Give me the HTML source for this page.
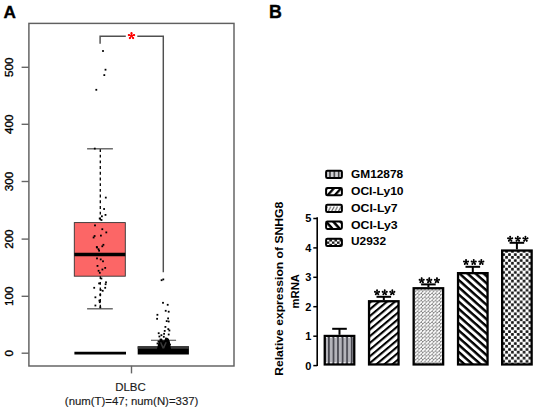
<!DOCTYPE html>
<html><head><meta charset="utf-8"><style>
html,body{margin:0;padding:0;background:#fff;overflow:hidden}
svg{display:block}
</style></head><body>
<svg width="536" height="410" viewBox="0 0 536 410" font-family='"Liberation Sans", sans-serif'>
<defs>
<pattern id="pv" patternUnits="userSpaceOnUse" width="4.55" height="10" x="328.1">
  <rect width="4.55" height="10" fill="#b4b4ba"/>
  <rect x="0" width="1.6" height="10" fill="#3e3e46"/>
</pattern>
<pattern id="pvw" patternUnits="userSpaceOnUse" width="4.55" height="10" x="328.1">
  <rect x="2.0" width="1.6" height="10" fill="#f4f4f6"/>
</pattern>
<pattern id="pd1" patternUnits="userSpaceOnUse" width="20" height="5.15" patternTransform="translate(381,332.2) rotate(-40)">
  <rect width="20" height="5.15" fill="#fff"/>
  <rect width="20" height="2.1" fill="#000"/>
</pattern>
<pattern id="pd2" patternUnits="userSpaceOnUse" width="20" height="5.37" patternTransform="translate(472,326.2) rotate(41.7)">
  <rect width="20" height="5.37" fill="#fff"/>
  <rect width="20" height="2.45" fill="#000"/>
</pattern>
<pattern id="pfine" patternUnits="userSpaceOnUse" width="3.6" height="3.6" x="418.4" y="340.9">
  <rect width="3.6" height="3.6" fill="#808080"/>
  <path d="M0.55,3.05 L3.05,0.55" stroke="#fff" stroke-width="1.8" stroke-linecap="round"/>
</pattern>
<pattern id="pchk" patternUnits="userSpaceOnUse" width="5.84" height="5.93" x="505.1" y="250">
  <rect width="5.84" height="5.93" fill="#fff"/>
  <rect x="0.12" y="0.12" width="2.7" height="2.72" rx="0.5" fill="#111"/>
  <rect x="3.04" y="3.09" width="2.7" height="2.72" rx="0.5" fill="#111"/>
</pattern>
<pattern id="lv" patternUnits="userSpaceOnUse" width="4.3" height="10" x="329.25">
  <rect width="4.3" height="10" fill="#cfcfd3"/>
  <rect width="1.5" height="10" fill="#383838"/>
</pattern>
<pattern id="ld1" patternUnits="userSpaceOnUse" width="10" height="5.3" patternTransform="translate(330.8,190) rotate(-48)">
  <rect width="10" height="5.3" fill="#fff"/><rect width="10" height="2.3" fill="#000"/>
</pattern>
<pattern id="ld2" patternUnits="userSpaceOnUse" width="10" height="5.4" patternTransform="translate(329.5,223.6) rotate(48)">
  <rect width="10" height="5.4" fill="#fff"/><rect width="10" height="2.5" fill="#000"/>
</pattern>
<pattern id="lfine" patternUnits="userSpaceOnUse" width="3.4" height="6.2" x="327.9" y="205.7">
  <rect width="3.4" height="6.2" fill="#fff"/><path d="M0.4,5.4 L3.0,0.8" stroke="#555" stroke-width="1.1"/>
</pattern>
<pattern id="lchk" patternUnits="userSpaceOnUse" width="5.1" height="4.6" x="326.8" y="239.2">
  <rect width="5.1" height="4.6" fill="#fff"/><rect x="2.55" y="0" width="2.55" height="2.3" fill="#222"/><rect x="0" y="2.3" width="2.55" height="2.3" fill="#222"/>
</pattern>
</defs>
<rect width="536" height="410" fill="#fff"/>
<text x="3.6" y="17.7" font-size="17.2" font-weight="bold" fill="#000" stroke="#000" stroke-width="0.35">A</text>
<rect x="28.9" y="23.4" width="205.1" height="342.6" fill="none" stroke="#606060" stroke-width="1.45"/>
<line x1="21.6" y1="353.2" x2="28.9" y2="353.2" stroke="#666" stroke-width="1.4"/>
<text transform="translate(13.2,353.2) rotate(-90)" text-anchor="middle" font-size="11.6" fill="#000" stroke="#000" stroke-width="0.35">0</text>
<line x1="21.6" y1="296.3" x2="28.9" y2="296.3" stroke="#666" stroke-width="1.4"/>
<text transform="translate(13.2,296.3) rotate(-90)" text-anchor="middle" font-size="11.6" fill="#000" stroke="#000" stroke-width="0.35">100</text>
<line x1="21.6" y1="239.1" x2="28.9" y2="239.1" stroke="#666" stroke-width="1.4"/>
<text transform="translate(13.2,239.1) rotate(-90)" text-anchor="middle" font-size="11.6" fill="#000" stroke="#000" stroke-width="0.35">200</text>
<line x1="21.6" y1="181.5" x2="28.9" y2="181.5" stroke="#666" stroke-width="1.4"/>
<text transform="translate(13.2,181.5) rotate(-90)" text-anchor="middle" font-size="11.6" fill="#000" stroke="#000" stroke-width="0.35">300</text>
<line x1="21.6" y1="124.3" x2="28.9" y2="124.3" stroke="#666" stroke-width="1.4"/>
<text transform="translate(13.2,124.3) rotate(-90)" text-anchor="middle" font-size="11.6" fill="#000" stroke="#000" stroke-width="0.35">400</text>
<line x1="21.6" y1="67.3" x2="28.9" y2="67.3" stroke="#666" stroke-width="1.4"/>
<text transform="translate(13.2,67.3) rotate(-90)" text-anchor="middle" font-size="11.6" fill="#000" stroke="#000" stroke-width="0.35">500</text>
<path d="M100.1,43.8 V36.2 H125.8 M137.3,36.2 H163.3 V272.3" fill="none" stroke="#505050" stroke-width="1.45"/>
<path d="M131.50,35.90 L131.50,33.15 M131.50,35.90 L134.12,35.05 M131.50,35.90 L133.12,38.12 M131.50,35.90 L129.88,38.12 M131.50,35.90 L128.88,35.05" stroke="#f00" stroke-width="1.45" stroke-linecap="round" fill="none"/><circle cx="131.50" cy="33.15" r="1.1" fill="#f00"/><circle cx="134.12" cy="35.05" r="1.1" fill="#f00"/><circle cx="133.12" cy="38.12" r="1.1" fill="#f00"/><circle cx="129.88" cy="38.12" r="1.1" fill="#f00"/><circle cx="128.88" cy="35.05" r="1.1" fill="#f00"/>
<rect x="74.3" y="222.6" width="51.0" height="53.6" fill="#fc6666" stroke="#333" stroke-width="0.9"/>
<line x1="74.3" y1="254.5" x2="125.3" y2="254.5" stroke="#000" stroke-width="3.4"/>
<line x1="100.3" y1="149" x2="100.3" y2="222.6" stroke="#000" stroke-width="1.3" stroke-dasharray="2.9 2.8"/>
<line x1="100.3" y1="276.2" x2="100.3" y2="308.6" stroke="#000" stroke-width="1.3" stroke-dasharray="2.9 2.8"/>
<line x1="87.1" y1="148.8" x2="112.9" y2="148.8" stroke="#555" stroke-width="1.3"/>
<line x1="87.1" y1="308.8" x2="112.8" y2="308.8" stroke="#555" stroke-width="1.3"/>
<line x1="74.4" y1="353.1" x2="126" y2="353.1" stroke="#000" stroke-width="2.6"/>
<rect x="137.7" y="346.3" width="51.2" height="8.2" fill="#000"/>
<rect x="137.7" y="346.3" width="51.2" height="2.5" fill="#3a3a3a"/>
<line x1="151" y1="340.3" x2="176.1" y2="340.3" stroke="#666" stroke-width="1.2"/>
<line x1="163.3" y1="340.3" x2="163.3" y2="346.3" stroke="#000" stroke-width="1.2" stroke-dasharray="2 2"/>
<rect x="102.10" y="50.10" width="1.8" height="1.8" fill="#000"/>
<rect x="104.60" y="68.80" width="1.8" height="1.8" fill="#000"/>
<rect x="103.40" y="74.20" width="1.8" height="1.8" fill="#000"/>
<rect x="95.40" y="88.90" width="1.8" height="1.8" fill="#000"/>
<rect x="93.90" y="147.70" width="1.8" height="1.8" fill="#000"/>
<rect x="104.90" y="196.70" width="1.8" height="1.8" fill="#000"/>
<rect x="103.20" y="208.10" width="1.8" height="1.8" fill="#000"/>
<rect x="104.60" y="214.00" width="1.8" height="1.8" fill="#000"/>
<rect x="101.00" y="215.40" width="1.8" height="1.8" fill="#000"/>
<rect x="98.80" y="217.60" width="1.8" height="1.8" fill="#000"/>
<rect x="100.60" y="219.10" width="1.8" height="1.8" fill="#000"/>
<rect x="94.10" y="224.50" width="1.8" height="1.8" fill="#000"/>
<rect x="101.40" y="228.30" width="1.8" height="1.8" fill="#000"/>
<rect x="105.40" y="231.50" width="1.8" height="1.8" fill="#000"/>
<rect x="93.70" y="235.10" width="1.8" height="1.8" fill="#000"/>
<rect x="92.70" y="236.60" width="1.8" height="1.8" fill="#000"/>
<rect x="100.00" y="234.70" width="1.8" height="1.8" fill="#000"/>
<rect x="102.50" y="243.90" width="1.8" height="1.8" fill="#000"/>
<rect x="101.40" y="245.40" width="1.8" height="1.8" fill="#000"/>
<rect x="95.90" y="246.10" width="1.8" height="1.8" fill="#000"/>
<rect x="97.60" y="248.30" width="1.8" height="1.8" fill="#000"/>
<rect x="96.10" y="246.60" width="1.8" height="1.8" fill="#000"/>
<rect x="98.20" y="249.80" width="1.8" height="1.8" fill="#000"/>
<rect x="96.10" y="257.50" width="1.8" height="1.8" fill="#000"/>
<rect x="99.80" y="258.50" width="1.8" height="1.8" fill="#000"/>
<rect x="102.10" y="260.40" width="1.8" height="1.8" fill="#000"/>
<rect x="96.60" y="265.00" width="1.8" height="1.8" fill="#000"/>
<rect x="104.30" y="267.00" width="1.8" height="1.8" fill="#000"/>
<rect x="101.50" y="268.60" width="1.8" height="1.8" fill="#000"/>
<rect x="97.70" y="269.90" width="1.8" height="1.8" fill="#000"/>
<rect x="98.90" y="271.90" width="1.8" height="1.8" fill="#000"/>
<rect x="100.50" y="277.60" width="1.8" height="1.8" fill="#000"/>
<rect x="105.10" y="281.40" width="1.8" height="1.8" fill="#000"/>
<rect x="98.20" y="282.50" width="1.8" height="1.8" fill="#000"/>
<rect x="104.70" y="283.30" width="1.8" height="1.8" fill="#000"/>
<rect x="93.30" y="286.90" width="1.8" height="1.8" fill="#000"/>
<rect x="104.30" y="286.90" width="1.8" height="1.8" fill="#000"/>
<rect x="99.80" y="289.10" width="1.8" height="1.8" fill="#000"/>
<rect x="101.80" y="289.90" width="1.8" height="1.8" fill="#000"/>
<rect x="99.40" y="293.90" width="1.8" height="1.8" fill="#000"/>
<rect x="94.50" y="296.40" width="1.8" height="1.8" fill="#000"/>
<rect x="98.50" y="299.70" width="1.8" height="1.8" fill="#000"/>
<rect x="98.90" y="301.30" width="1.8" height="1.8" fill="#000"/>
<rect x="94.50" y="304.60" width="1.8" height="1.8" fill="#000"/>
<rect x="99.40" y="306.50" width="1.8" height="1.8" fill="#000"/>
<rect x="160.70" y="279.30" width="1.8" height="1.8" fill="#000"/>
<rect x="162.40" y="278.50" width="1.8" height="1.8" fill="#000"/>
<rect x="162.10" y="301.90" width="1.8" height="1.8" fill="#000"/>
<rect x="166.80" y="303.90" width="1.8" height="1.8" fill="#000"/>
<rect x="164.80" y="309.90" width="1.8" height="1.8" fill="#000"/>
<rect x="167.80" y="310.80" width="1.8" height="1.8" fill="#000"/>
<rect x="156.50" y="313.90" width="1.8" height="1.8" fill="#000"/>
<rect x="156.20" y="317.90" width="1.8" height="1.8" fill="#000"/>
<rect x="167.20" y="317.50" width="1.8" height="1.8" fill="#000"/>
<rect x="165.80" y="320.20" width="1.8" height="1.8" fill="#000"/>
<rect x="167.80" y="320.60" width="1.8" height="1.8" fill="#000"/>
<rect x="164.50" y="326.00" width="1.8" height="1.8" fill="#000"/>
<rect x="167.40" y="328.20" width="1.8" height="1.8" fill="#000"/>
<rect x="168.50" y="329.60" width="1.8" height="1.8" fill="#000"/>
<rect x="163.80" y="330.00" width="1.8" height="1.8" fill="#000"/>
<rect x="157.80" y="332.30" width="1.8" height="1.8" fill="#000"/>
<rect x="163.20" y="332.90" width="1.8" height="1.8" fill="#000"/>
<rect x="167.80" y="333.60" width="1.8" height="1.8" fill="#000"/>
<rect x="160.50" y="334.30" width="1.8" height="1.8" fill="#000"/>
<rect x="158.50" y="335.60" width="1.8" height="1.8" fill="#000"/>
<rect x="162.90" y="335.90" width="1.8" height="1.8" fill="#000"/>
<rect x="165.10" y="337.60" width="1.8" height="1.8" fill="#000"/>
<rect x="159.60" y="338.60" width="1.8" height="1.8" fill="#000"/>
<rect x="167.10" y="338.70" width="1.8" height="1.8" fill="#000"/>
<rect x="157.60" y="340.60" width="1.8" height="1.8" fill="#000"/>
<rect x="161.10" y="340.90" width="1.8" height="1.8" fill="#000"/>
<rect x="164.10" y="341.10" width="1.8" height="1.8" fill="#000"/>
<rect x="168.10" y="341.60" width="1.8" height="1.8" fill="#000"/>
<rect x="156.60" y="342.60" width="1.8" height="1.8" fill="#000"/>
<rect x="160.10" y="343.10" width="1.8" height="1.8" fill="#000"/>
<rect x="166.10" y="343.10" width="1.8" height="1.8" fill="#000"/>
<rect x="169.10" y="343.60" width="1.8" height="1.8" fill="#000"/>
<rect x="158.10" y="344.10" width="1.8" height="1.8" fill="#000"/>
<rect x="163.10" y="344.10" width="1.8" height="1.8" fill="#000"/>
<path d="M157,349 L158.5,342 L160.5,339 L162,338.5 L163.3,342 L165,339 L167.5,337.8 L169.5,340.5 L171,349 Z" fill="#000"/>
<path d="M160,342.5 L161.2,342 L163.3,346.5 L165.5,342 L166.8,342.5 L164.2,348.5 L162.4,348.5 Z" fill="#383838"/>
<line x1="131.5" y1="365.8" x2="131.5" y2="373.4" stroke="#666" stroke-width="1.4"/>
<text x="130.5" y="390.7" text-anchor="middle" font-size="11.6" fill="#1a1a1a" stroke="#1a1a1a" stroke-width="0.15" textLength="30.5" lengthAdjust="spacingAndGlyphs">DLBC</text>
<text x="131.6" y="404.8" text-anchor="middle" font-size="11.6" fill="#1a1a1a" stroke="#1a1a1a" stroke-width="0.15" textLength="133.5" lengthAdjust="spacingAndGlyphs">(num(T)=47; num(N)=337)</text>
<text x="269.0" y="17.9" font-size="17.8" font-weight="bold" fill="#000" stroke="#000" stroke-width="0.35">B</text>
<line x1="317.2" y1="217.2" x2="317.2" y2="366" stroke="#000" stroke-width="1.6"/>
<line x1="313.3" y1="365.6" x2="317.2" y2="365.6" stroke="#000" stroke-width="1.5"/>
<text x="311.3" y="369.5" text-anchor="end" font-size="11" font-weight="bold" fill="#000">0</text>
<line x1="313.3" y1="336.2" x2="317.2" y2="336.2" stroke="#000" stroke-width="1.5"/>
<text x="311.3" y="340.1" text-anchor="end" font-size="11" font-weight="bold" fill="#000">1</text>
<line x1="313.3" y1="306.7" x2="317.2" y2="306.7" stroke="#000" stroke-width="1.5"/>
<text x="311.3" y="310.6" text-anchor="end" font-size="11" font-weight="bold" fill="#000">2</text>
<line x1="313.3" y1="277.3" x2="317.2" y2="277.3" stroke="#000" stroke-width="1.5"/>
<text x="311.3" y="281.2" text-anchor="end" font-size="11" font-weight="bold" fill="#000">3</text>
<line x1="313.3" y1="247.9" x2="317.2" y2="247.9" stroke="#000" stroke-width="1.5"/>
<text x="311.3" y="251.8" text-anchor="end" font-size="11" font-weight="bold" fill="#000">4</text>
<line x1="313.3" y1="218.5" x2="317.2" y2="218.5" stroke="#000" stroke-width="1.5"/>
<text x="311.3" y="222.4" text-anchor="end" font-size="11" font-weight="bold" fill="#000">5</text>
<text transform="translate(282.7,288.8) rotate(-90)" text-anchor="middle" font-size="11.4" font-weight="bold" fill="#000" textLength="174" lengthAdjust="spacingAndGlyphs">Relative expression of SNHG8</text>
<text transform="translate(298.6,291.3) rotate(-90)" text-anchor="middle" font-size="11.4" font-weight="bold" fill="#000" textLength="34.5" lengthAdjust="spacingAndGlyphs">mRNA</text>
<rect x="326.1" y="170.8" width="15.8" height="7.3" rx="1.3" fill="url(#lv)" stroke="#000" stroke-width="2"/>
<text x="351" y="178.1" font-size="10.9" font-weight="bold" fill="#000" textLength="52.2" lengthAdjust="spacingAndGlyphs">GM12878</text>
<rect x="326.1" y="187.9" width="15.8" height="7.3" rx="1.3" fill="url(#ld1)" stroke="#000" stroke-width="2"/>
<text x="351" y="195.0" font-size="10.9" font-weight="bold" fill="#000" textLength="52.6" lengthAdjust="spacingAndGlyphs">OCI-Ly10</text>
<rect x="326.1" y="204.8" width="15.8" height="7.3" rx="1.3" fill="url(#lfine)" stroke="#000" stroke-width="2"/>
<text x="351" y="212.1" font-size="10.9" font-weight="bold" fill="#000" textLength="46.7" lengthAdjust="spacingAndGlyphs">OCI-Ly7</text>
<rect x="326.1" y="221.6" width="15.8" height="7.3" rx="1.3" fill="url(#ld2)" stroke="#000" stroke-width="2"/>
<text x="351" y="228.9" font-size="10.9" font-weight="bold" fill="#000" textLength="46.7" lengthAdjust="spacingAndGlyphs">OCI-Ly3</text>
<rect x="326.1" y="238.7" width="15.8" height="7.3" rx="1.3" fill="url(#lchk)" stroke="#000" stroke-width="2"/>
<text x="351" y="245.4" font-size="10.9" font-weight="bold" fill="#000" textLength="35.0" lengthAdjust="spacingAndGlyphs">U2932</text>
<line x1="339.5" y1="328.8" x2="339.5" y2="334.8" stroke="#000" stroke-width="2"/>
<line x1="332.2" y1="328.8" x2="346.8" y2="328.8" stroke="#000" stroke-width="2"/>
<rect x="324.75" y="335.95" width="29.50" height="28.50" fill="url(#pv)" stroke="#000" stroke-width="2.3"/>
<line x1="383.8" y1="296.8" x2="383.8" y2="300.1" stroke="#000" stroke-width="2"/>
<line x1="376.5" y1="296.8" x2="391.1" y2="296.8" stroke="#000" stroke-width="2"/>
<rect x="369.05" y="301.25" width="29.50" height="63.20" fill="url(#pd1)" stroke="#000" stroke-width="2.3"/>
<line x1="428.4" y1="284.4" x2="428.4" y2="287.1" stroke="#000" stroke-width="2"/>
<line x1="421.1" y1="284.4" x2="435.7" y2="284.4" stroke="#000" stroke-width="2"/>
<rect x="413.65" y="288.25" width="29.50" height="76.20" fill="url(#pfine)" stroke="#000" stroke-width="2.3"/>
<line x1="472.8" y1="266.8" x2="472.8" y2="272.0" stroke="#000" stroke-width="2"/>
<line x1="465.5" y1="266.8" x2="480.1" y2="266.8" stroke="#000" stroke-width="2"/>
<rect x="458.05" y="273.15" width="29.50" height="91.30" fill="url(#pd2)" stroke="#000" stroke-width="2.3"/>
<line x1="516.9" y1="242.8" x2="516.9" y2="249.4" stroke="#000" stroke-width="2"/>
<line x1="509.6" y1="242.8" x2="524.2" y2="242.8" stroke="#000" stroke-width="2"/>
<rect x="502.15" y="250.55" width="29.50" height="113.90" fill="url(#pchk)" stroke="#000" stroke-width="2.3"/>
<rect x="325.9" y="337.0" width="27.2" height="1.1" fill="url(#pvw)"/>
<rect x="325.9" y="362.1" width="27.2" height="1.1" fill="url(#pvw)"/>
<path d="M377.05,292.50 L377.05,290.30 M377.05,292.50 L379.14,291.82 M377.05,292.50 L378.34,294.28 M377.05,292.50 L375.76,294.28 M377.05,292.50 L374.96,291.82" stroke="#000" stroke-width="1.25" stroke-linecap="round" fill="none"/><circle cx="377.05" cy="290.30" r="0.95" fill="#000"/><circle cx="379.14" cy="291.82" r="0.95" fill="#000"/><circle cx="378.34" cy="294.28" r="0.95" fill="#000"/><circle cx="375.76" cy="294.28" r="0.95" fill="#000"/><circle cx="374.96" cy="291.82" r="0.95" fill="#000"/>
<path d="M384.70,292.50 L384.70,290.30 M384.70,292.50 L386.79,291.82 M384.70,292.50 L385.99,294.28 M384.70,292.50 L383.41,294.28 M384.70,292.50 L382.61,291.82" stroke="#000" stroke-width="1.25" stroke-linecap="round" fill="none"/><circle cx="384.70" cy="290.30" r="0.95" fill="#000"/><circle cx="386.79" cy="291.82" r="0.95" fill="#000"/><circle cx="385.99" cy="294.28" r="0.95" fill="#000"/><circle cx="383.41" cy="294.28" r="0.95" fill="#000"/><circle cx="382.61" cy="291.82" r="0.95" fill="#000"/>
<path d="M392.35,292.50 L392.35,290.30 M392.35,292.50 L394.44,291.82 M392.35,292.50 L393.64,294.28 M392.35,292.50 L391.06,294.28 M392.35,292.50 L390.26,291.82" stroke="#000" stroke-width="1.25" stroke-linecap="round" fill="none"/><circle cx="392.35" cy="290.30" r="0.95" fill="#000"/><circle cx="394.44" cy="291.82" r="0.95" fill="#000"/><circle cx="393.64" cy="294.28" r="0.95" fill="#000"/><circle cx="391.06" cy="294.28" r="0.95" fill="#000"/><circle cx="390.26" cy="291.82" r="0.95" fill="#000"/>
<path d="M421.65,280.40 L421.65,278.20 M421.65,280.40 L423.74,279.72 M421.65,280.40 L422.94,282.18 M421.65,280.40 L420.36,282.18 M421.65,280.40 L419.56,279.72" stroke="#000" stroke-width="1.25" stroke-linecap="round" fill="none"/><circle cx="421.65" cy="278.20" r="0.95" fill="#000"/><circle cx="423.74" cy="279.72" r="0.95" fill="#000"/><circle cx="422.94" cy="282.18" r="0.95" fill="#000"/><circle cx="420.36" cy="282.18" r="0.95" fill="#000"/><circle cx="419.56" cy="279.72" r="0.95" fill="#000"/>
<path d="M429.30,280.40 L429.30,278.20 M429.30,280.40 L431.39,279.72 M429.30,280.40 L430.59,282.18 M429.30,280.40 L428.01,282.18 M429.30,280.40 L427.21,279.72" stroke="#000" stroke-width="1.25" stroke-linecap="round" fill="none"/><circle cx="429.30" cy="278.20" r="0.95" fill="#000"/><circle cx="431.39" cy="279.72" r="0.95" fill="#000"/><circle cx="430.59" cy="282.18" r="0.95" fill="#000"/><circle cx="428.01" cy="282.18" r="0.95" fill="#000"/><circle cx="427.21" cy="279.72" r="0.95" fill="#000"/>
<path d="M436.95,280.40 L436.95,278.20 M436.95,280.40 L439.04,279.72 M436.95,280.40 L438.24,282.18 M436.95,280.40 L435.66,282.18 M436.95,280.40 L434.86,279.72" stroke="#000" stroke-width="1.25" stroke-linecap="round" fill="none"/><circle cx="436.95" cy="278.20" r="0.95" fill="#000"/><circle cx="439.04" cy="279.72" r="0.95" fill="#000"/><circle cx="438.24" cy="282.18" r="0.95" fill="#000"/><circle cx="435.66" cy="282.18" r="0.95" fill="#000"/><circle cx="434.86" cy="279.72" r="0.95" fill="#000"/>
<path d="M466.05,262.20 L466.05,260.00 M466.05,262.20 L468.14,261.52 M466.05,262.20 L467.34,263.98 M466.05,262.20 L464.76,263.98 M466.05,262.20 L463.96,261.52" stroke="#000" stroke-width="1.25" stroke-linecap="round" fill="none"/><circle cx="466.05" cy="260.00" r="0.95" fill="#000"/><circle cx="468.14" cy="261.52" r="0.95" fill="#000"/><circle cx="467.34" cy="263.98" r="0.95" fill="#000"/><circle cx="464.76" cy="263.98" r="0.95" fill="#000"/><circle cx="463.96" cy="261.52" r="0.95" fill="#000"/>
<path d="M473.70,262.20 L473.70,260.00 M473.70,262.20 L475.79,261.52 M473.70,262.20 L474.99,263.98 M473.70,262.20 L472.41,263.98 M473.70,262.20 L471.61,261.52" stroke="#000" stroke-width="1.25" stroke-linecap="round" fill="none"/><circle cx="473.70" cy="260.00" r="0.95" fill="#000"/><circle cx="475.79" cy="261.52" r="0.95" fill="#000"/><circle cx="474.99" cy="263.98" r="0.95" fill="#000"/><circle cx="472.41" cy="263.98" r="0.95" fill="#000"/><circle cx="471.61" cy="261.52" r="0.95" fill="#000"/>
<path d="M481.35,262.20 L481.35,260.00 M481.35,262.20 L483.44,261.52 M481.35,262.20 L482.64,263.98 M481.35,262.20 L480.06,263.98 M481.35,262.20 L479.26,261.52" stroke="#000" stroke-width="1.25" stroke-linecap="round" fill="none"/><circle cx="481.35" cy="260.00" r="0.95" fill="#000"/><circle cx="483.44" cy="261.52" r="0.95" fill="#000"/><circle cx="482.64" cy="263.98" r="0.95" fill="#000"/><circle cx="480.06" cy="263.98" r="0.95" fill="#000"/><circle cx="479.26" cy="261.52" r="0.95" fill="#000"/>
<path d="M510.15,239.00 L510.15,236.80 M510.15,239.00 L512.24,238.32 M510.15,239.00 L511.44,240.78 M510.15,239.00 L508.86,240.78 M510.15,239.00 L508.06,238.32" stroke="#000" stroke-width="1.25" stroke-linecap="round" fill="none"/><circle cx="510.15" cy="236.80" r="0.95" fill="#000"/><circle cx="512.24" cy="238.32" r="0.95" fill="#000"/><circle cx="511.44" cy="240.78" r="0.95" fill="#000"/><circle cx="508.86" cy="240.78" r="0.95" fill="#000"/><circle cx="508.06" cy="238.32" r="0.95" fill="#000"/>
<path d="M517.80,239.00 L517.80,236.80 M517.80,239.00 L519.89,238.32 M517.80,239.00 L519.09,240.78 M517.80,239.00 L516.51,240.78 M517.80,239.00 L515.71,238.32" stroke="#000" stroke-width="1.25" stroke-linecap="round" fill="none"/><circle cx="517.80" cy="236.80" r="0.95" fill="#000"/><circle cx="519.89" cy="238.32" r="0.95" fill="#000"/><circle cx="519.09" cy="240.78" r="0.95" fill="#000"/><circle cx="516.51" cy="240.78" r="0.95" fill="#000"/><circle cx="515.71" cy="238.32" r="0.95" fill="#000"/>
<path d="M525.45,239.00 L525.45,236.80 M525.45,239.00 L527.54,238.32 M525.45,239.00 L526.74,240.78 M525.45,239.00 L524.16,240.78 M525.45,239.00 L523.36,238.32" stroke="#000" stroke-width="1.25" stroke-linecap="round" fill="none"/><circle cx="525.45" cy="236.80" r="0.95" fill="#000"/><circle cx="527.54" cy="238.32" r="0.95" fill="#000"/><circle cx="526.74" cy="240.78" r="0.95" fill="#000"/><circle cx="524.16" cy="240.78" r="0.95" fill="#000"/><circle cx="523.36" cy="238.32" r="0.95" fill="#000"/>
</svg>
</body></html>
